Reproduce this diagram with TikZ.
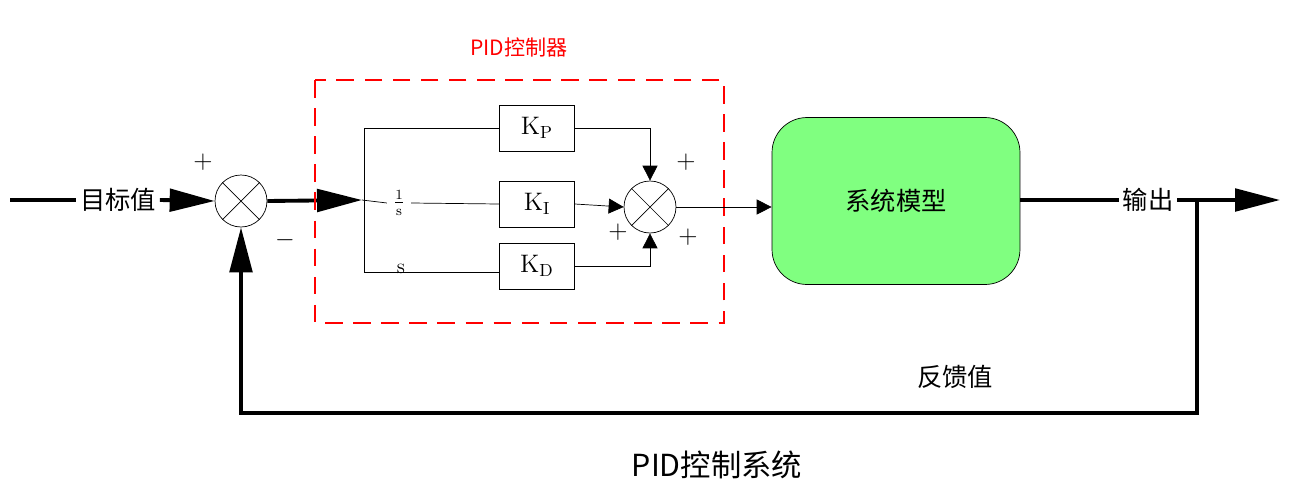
\documentclass[tikz,border=0pt]{standalone}
\usepackage{fontspec}
\newfontfamily\cjk{Noto Sans CJK SC}
\usetikzlibrary{arrows.meta}
\begin{document}
\begin{tikzpicture}[x=0.02cm,y=-0.02cm,
  thk/.style={line width=2.2pt},
  big/.style={-{Triangle[length=0.9cm,width=0.45cm]}},
  sm/.style={-{Triangle[length=0.3cm,width=0.3cm]}},
  blk/.style={draw,minimum width=1.5cm,minimum height=0.92cm,inner sep=0pt,font=\Large},
  sum/.style={draw,circle,minimum size=1.04cm,inner sep=0pt},
  lbl/.style={font=\cjk\Large}]
\useasboundingbox (0,0) rectangle (1309,501);
\coordinate (L) at (10,200);
\node[lbl,fill=white,inner sep=2pt] (tgt) at (118,200) {目标值};
\node[sum] (s1) at (241,201) {};
\draw (s1.north west)--(s1.south east) (s1.north east)--(s1.south west);
\draw[thk] (L)--(tgt.west);
\draw[thk,big] (tgt.east)--(s1.west);
\node[font=\Large] (p1) at (203,162) {+};
\node[font=\Large] (m1) at (285,240) {$-$};
\coordinate (in) at (362,200);
\draw[thk,big] (s1.east)--(in);
\draw[red,dashed,line width=1.2pt,dash pattern=on 10pt off 6pt] (315,80) rectangle (724,323);
\node[red,font=\cjk\large] (pidl) at (519,47) {PID控制器};
\node[blk] (kp) at (537,128) {K$_\mathrm{P}$};
\node[blk] (ki) at (537,204) {K$_\mathrm{I}$};
\node[blk] (kd) at (537,266) {K$_\mathrm{D}$};
\coordinate (b1) at (364,128);
\coordinate (b3) at (364,272);
\draw (b1)--(kp.west) (b1)--(b3)--(kd.west|-b3);
\node[font=\large] (frac) at (399,203) {$\frac{1}{\mathrm{s}}$};
\draw (frac.east)--(ki.west);
\draw (in)--(frac.west);
\node[font=\large] (sl) at (401,269) {s};
\node[sum] (s2) at (650,207) {};
\draw (s2.north west)--(s2.south east) (s2.north east)--(s2.south west);
\draw[sm] (kp.east)-|(s2.north);
\draw[sm] (ki.east)--(s2.west);
\draw[sm] (kd.east)-|(s2.south);
\node[font=\Large] at (686,162) {+};
\node[font=\Large] at (618,232) {+};
\node[font=\Large] at (688,237) {+};
\node[draw,rounded corners=0.7cm,fill={rgb,255:red,128;green,255;blue,128},minimum width=4.96cm,minimum height=3.34cm,lbl] (sys) at (896,201) {系统模型};
\draw[sm] (s2.east)--(sys.west|-s2.east);
\node[lbl,fill=white,inner sep=2pt] (out) at (1148,200) {输出};
\coordinate (R) at (1280,200);
\coordinate (fb) at (1197,200);
\draw[thk] (sys.east|-out)--(out.west);
\draw[thk,big] (out.east)--(R);
\draw[thk,big] (fb)--(1197,413)--(241,413)--(s1.south);
\node[lbl] (fbl) at (955,377) {反馈值};
\node[font=\cjk\LARGE] (title) at (717,465) {PID控制系统};
\end{tikzpicture}
\end{document}
